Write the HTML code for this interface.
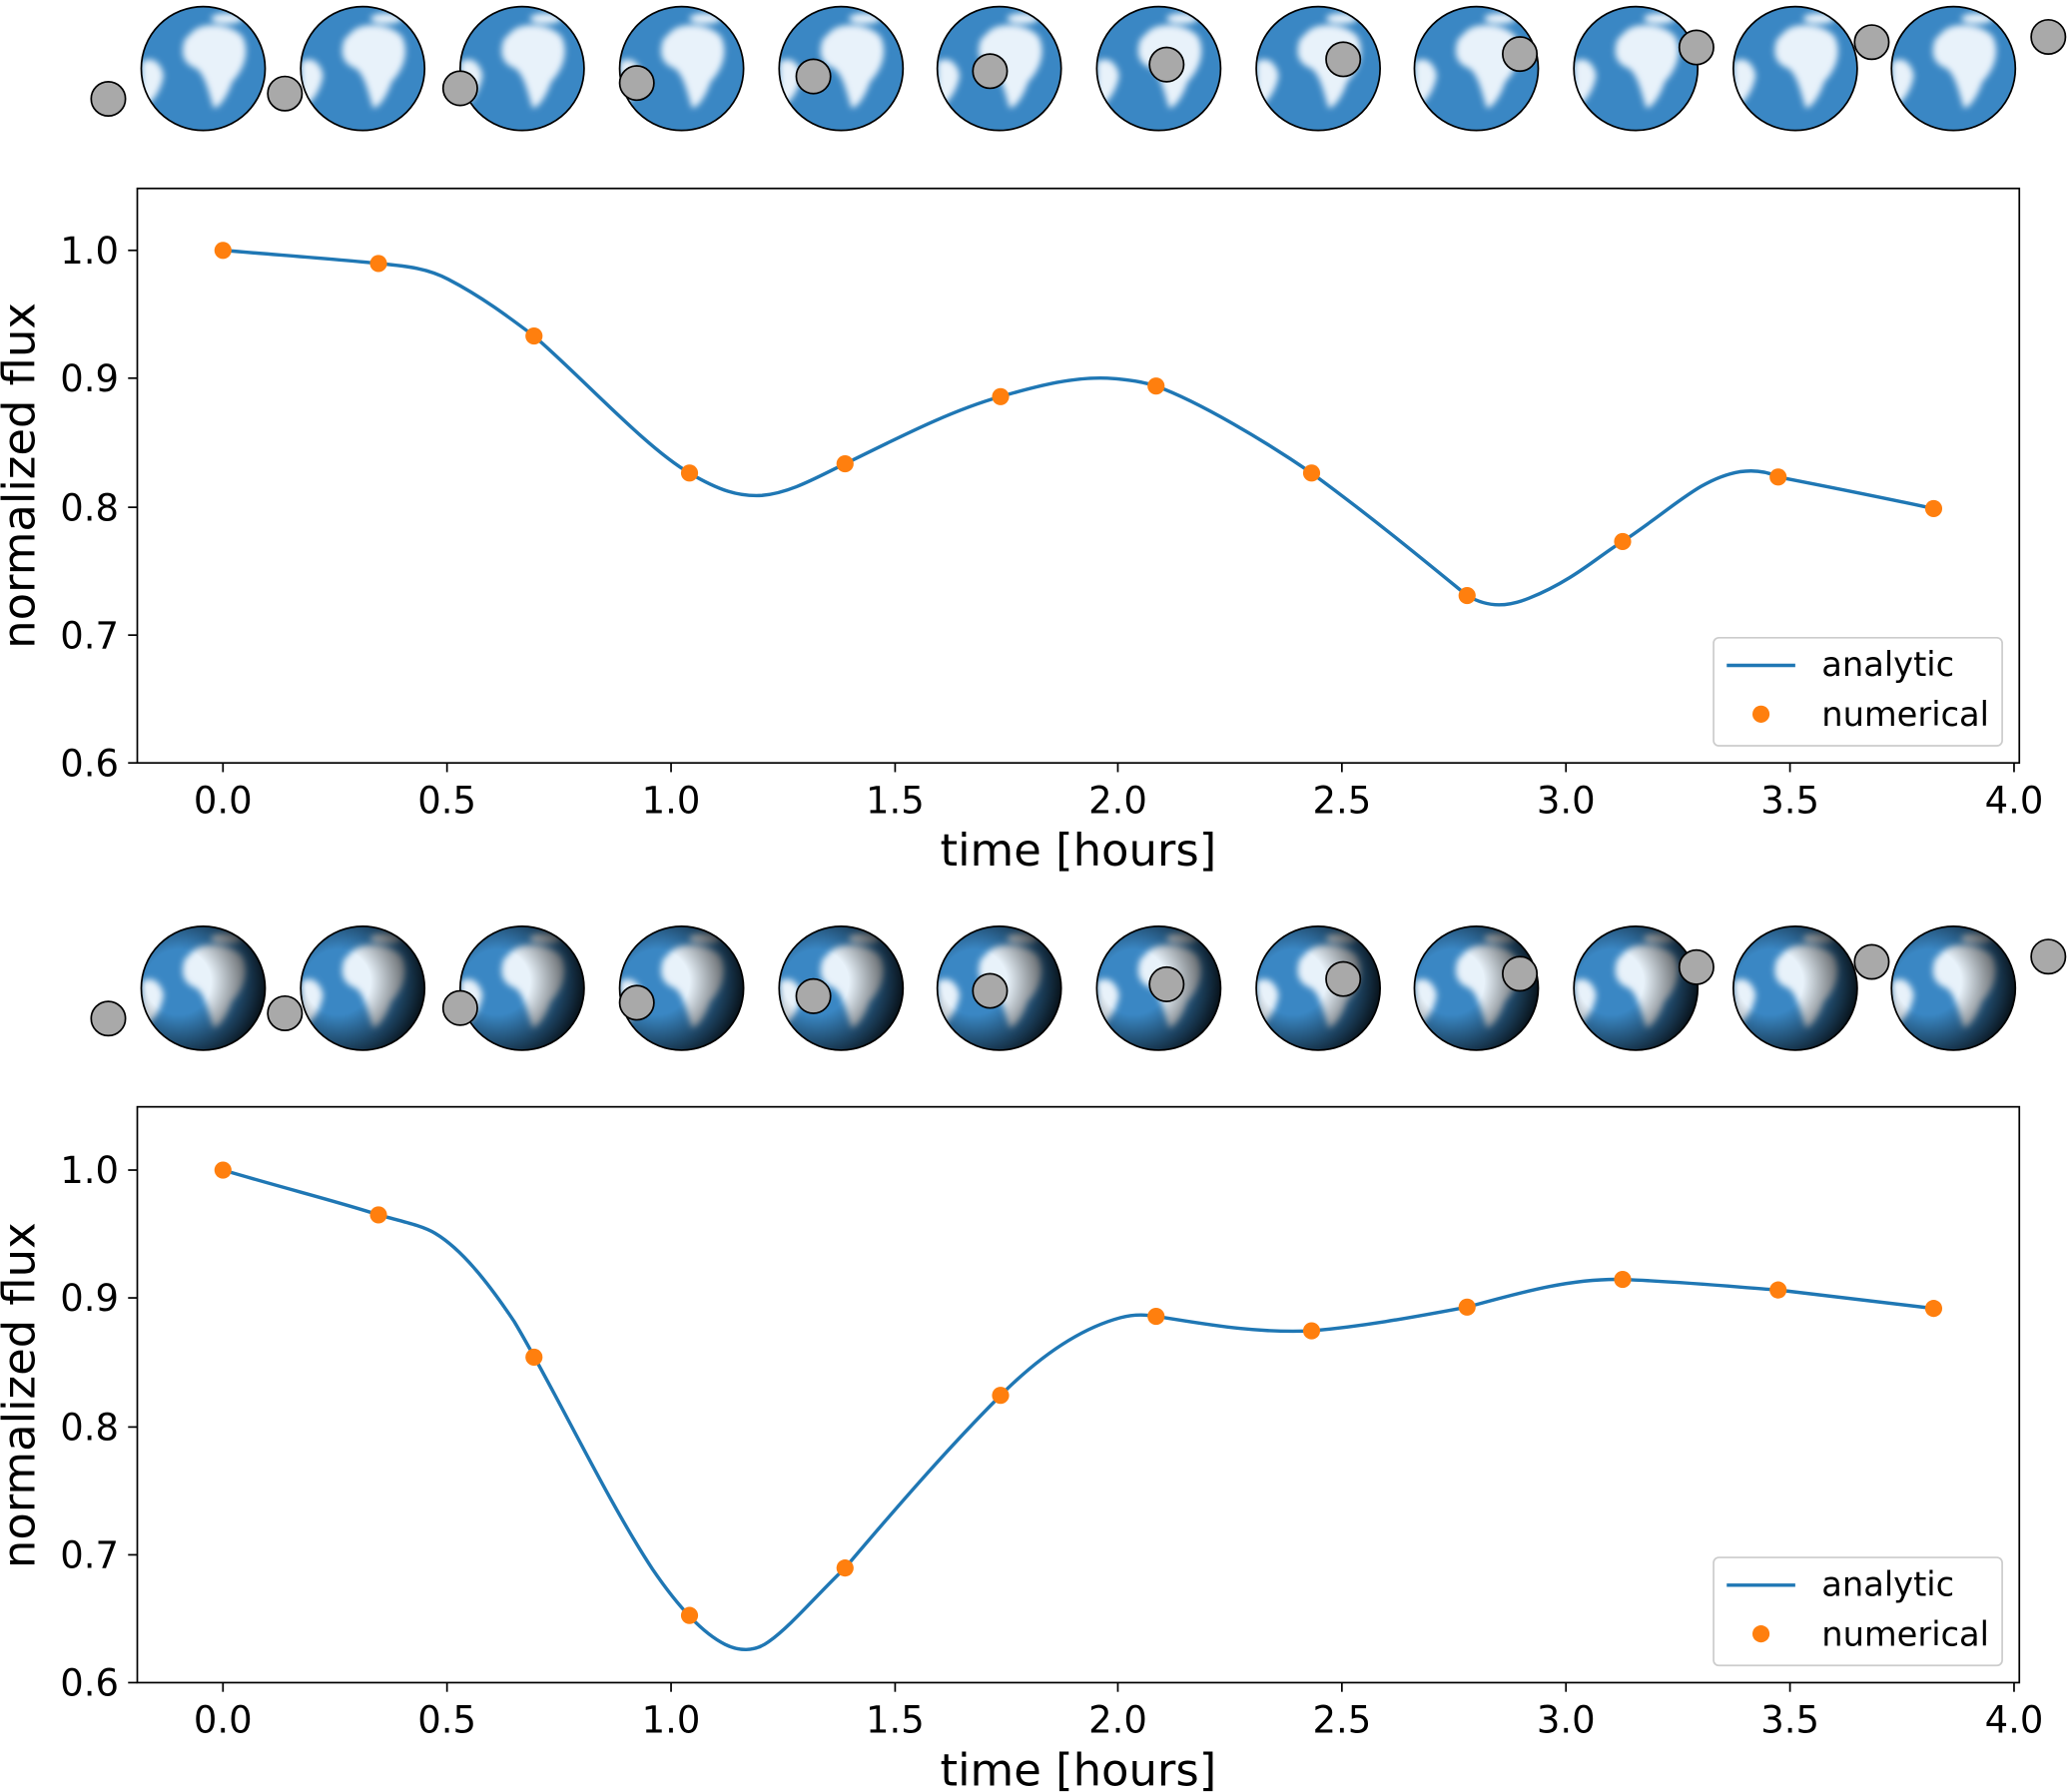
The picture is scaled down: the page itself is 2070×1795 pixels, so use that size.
<!DOCTYPE html>
<html><head><meta charset="utf-8"><style>html,body{margin:0;padding:0;background:#fff}svg{display:block}</style></head>
<body>
<svg width="2070" height="1795" viewBox="0 0 1568 1360" xmlns="http://www.w3.org/2000/svg" font-family="'DejaVu Sans','Liberation Sans',sans-serif">
<defs>
<filter id="bl" x="-20%" y="-20%" width="140%" height="140%"><feGaussianBlur stdDeviation="2.5"/></filter>
<clipPath id="ec"><circle cx="0" cy="0" r="47"/></clipPath>
<radialGradient id="sh" cx="0.3" cy="0.45" r="0.75">
<stop offset="0.35" stop-color="#000" stop-opacity="0"/>
<stop offset="0.8" stop-color="#000" stop-opacity="0.65"/>
<stop offset="1" stop-color="#000" stop-opacity="0.95"/>
</radialGradient>
<g id="land" fill="#e8f2fa" filter="url(#bl)">
<path d="M-8,-28 C0,-36 22,-34 30,-24 C36,-12 30,2 22,10 C18,22 12,30 8,30 C4,18 2,6 -5,0 C-14,-3 -18,-10 -14,-22 Z"/>
<path d="M-47,-5 C-38,-10 -32,-4 -30,5 C-32,18 -40,28 -47,30 Z"/>
<ellipse cx="18" cy="-38" rx="12" ry="4"/>
</g>
<g id="earth">
<g clip-path="url(#ec)">
<circle r="47" fill="#3a87c4"/>
<use href="#land"/>
</g>
<circle r="47" fill="none" stroke="#000" stroke-width="1.3"/>
</g>
<g id="earth2">
<g clip-path="url(#ec)">
<circle r="47" fill="#3a87c4"/>
<use href="#land"/>
<circle r="47" fill="url(#sh)"/>
</g>
<circle r="47" fill="none" stroke="#000" stroke-width="1.3"/>
</g>
<g id="moon"><circle r="13" fill="#a9a9a9" stroke="#000" stroke-width="1.3"/></g>
</defs>

<g>
<use href="#earth" x="154" y="52"/><use href="#earth" x="275" y="52"/><use href="#earth" x="396" y="52"/><use href="#earth" x="517" y="52"/><use href="#earth" x="638" y="52"/><use href="#earth" x="758" y="52"/><use href="#earth" x="879" y="52"/><use href="#earth" x="1000" y="52"/><use href="#earth" x="1120" y="52"/><use href="#earth" x="1241" y="52"/><use href="#earth" x="1362" y="52"/><use href="#earth" x="1482" y="52"/>
<use href="#moon" x="82" y="75"/><use href="#moon" x="216" y="71"/><use href="#moon" x="349" y="67"/><use href="#moon" x="483" y="63"/><use href="#moon" x="617" y="58"/><use href="#moon" x="751" y="54"/><use href="#moon" x="885" y="49"/><use href="#moon" x="1019" y="45"/><use href="#moon" x="1153" y="41"/><use href="#moon" x="1287" y="36"/><use href="#moon" x="1420" y="32"/><use href="#moon" x="1554" y="28"/>
</g>
<g transform="translate(0,698)">
<use href="#earth2" x="154" y="52"/><use href="#earth2" x="275" y="52"/><use href="#earth2" x="396" y="52"/><use href="#earth2" x="517" y="52"/><use href="#earth2" x="638" y="52"/><use href="#earth2" x="758" y="52"/><use href="#earth2" x="879" y="52"/><use href="#earth2" x="1000" y="52"/><use href="#earth2" x="1120" y="52"/><use href="#earth2" x="1241" y="52"/><use href="#earth2" x="1362" y="52"/><use href="#earth2" x="1482" y="52"/>
<use href="#moon" x="82" y="75"/><use href="#moon" x="216" y="71"/><use href="#moon" x="349" y="67"/><use href="#moon" x="483" y="63"/><use href="#moon" x="617" y="58"/><use href="#moon" x="751" y="54"/><use href="#moon" x="885" y="49"/><use href="#moon" x="1019" y="45"/><use href="#moon" x="1153" y="41"/><use href="#moon" x="1287" y="36"/><use href="#moon" x="1420" y="32"/><use href="#moon" x="1554" y="28"/>
</g>

<g>
<rect x="104" y="143" width="1428" height="436" fill="none" stroke="#000" stroke-width="1.3"/>
<g stroke="#000" stroke-width="1.3">
<line x1="169" y1="579" x2="169" y2="586"/><line x1="339" y1="579" x2="339" y2="586"/><line x1="509" y1="579" x2="509" y2="586"/><line x1="679" y1="579" x2="679" y2="586"/><line x1="848" y1="579" x2="848" y2="586"/><line x1="1018" y1="579" x2="1018" y2="586"/><line x1="1188" y1="579" x2="1188" y2="586"/><line x1="1358" y1="579" x2="1358" y2="586"/><line x1="1528" y1="579" x2="1528" y2="586"/>
<line x1="97" y1="190" x2="104" y2="190"/><line x1="97" y1="287" x2="104" y2="287"/><line x1="97" y1="385" x2="104" y2="385"/><line x1="97" y1="482" x2="104" y2="482"/><line x1="97" y1="579" x2="104" y2="579"/>
</g>
<g font-size="28" text-anchor="middle" fill="#000">
<text x="169" y="617">0.0</text><text x="339" y="617">0.5</text><text x="509" y="617">1.0</text><text x="679" y="617">1.5</text><text x="848" y="617">2.0</text><text x="1018" y="617">2.5</text><text x="1188" y="617">3.0</text><text x="1358" y="617">3.5</text><text x="1528" y="617">4.0</text>
</g>
<g font-size="28" text-anchor="end" fill="#000">
<text x="90" y="200">1.0</text><text x="90" y="297">0.9</text><text x="90" y="395">0.8</text><text x="90" y="492">0.7</text><text x="90" y="589">0.6</text>
</g>
<text x="818" y="657" font-size="34" text-anchor="middle">time [hours]</text>
<text transform="translate(26,361) rotate(-90)" font-size="34" text-anchor="middle">normalized flux</text>
<path d="M169,190 C230,195 270,198 287,200 C310,202 325,204 340,212 C365,225 385,240 405,255 C440,285 490,340 523,359 C545,372 560,377 578,376 C600,374 620,362 641,352 C680,333 720,312 759,301 C790,292 815,286 840,287 C858,288 868,290 877,293 C910,305 960,335 995,359 C1040,392 1080,425 1113,452 C1130,462 1145,460 1160,454 C1195,440 1215,420 1231,411 C1270,385 1290,363 1320,358 C1335,356 1345,360 1349,362 C1390,370 1430,378 1467,386" fill="none" stroke="#1f77b4" stroke-width="2.6"/>
<g fill="#ff7f0e">
<circle cx="169" cy="190" r="6.5"/><circle cx="287" cy="200" r="6.5"/><circle cx="405" cy="255" r="6.5"/><circle cx="523" cy="359" r="6.5"/><circle cx="641" cy="352" r="6.5"/><circle cx="759" cy="301" r="6.5"/><circle cx="877" cy="293" r="6.5"/><circle cx="995" cy="359" r="6.5"/><circle cx="1113" cy="452" r="6.5"/><circle cx="1231" cy="411" r="6.5"/><circle cx="1349" cy="362" r="6.5"/><circle cx="1467" cy="386" r="6.5"/>
</g>
<rect x="1300" y="484" width="219" height="82" rx="4" fill="#fff" stroke="#ccc" stroke-width="1.3"/>
<line x1="1310" y1="505" x2="1362" y2="505" stroke="#1f77b4" stroke-width="2.6"/>
<circle cx="1336" cy="542" r="6.5" fill="#ff7f0e"/>
<text x="1382" y="513" font-size="25.5">analytic</text>
<text x="1382" y="551" font-size="25.5">numerical</text>
</g>

<g transform="translate(0,698)">
<rect x="104" y="142" width="1428" height="437" fill="none" stroke="#000" stroke-width="1.3"/>
<g stroke="#000" stroke-width="1.3">
<line x1="169" y1="579" x2="169" y2="586"/><line x1="339" y1="579" x2="339" y2="586"/><line x1="509" y1="579" x2="509" y2="586"/><line x1="679" y1="579" x2="679" y2="586"/><line x1="848" y1="579" x2="848" y2="586"/><line x1="1018" y1="579" x2="1018" y2="586"/><line x1="1188" y1="579" x2="1188" y2="586"/><line x1="1358" y1="579" x2="1358" y2="586"/><line x1="1528" y1="579" x2="1528" y2="586"/>
<line x1="97" y1="190" x2="104" y2="190"/><line x1="97" y1="287" x2="104" y2="287"/><line x1="97" y1="385" x2="104" y2="385"/><line x1="97" y1="482" x2="104" y2="482"/><line x1="97" y1="579" x2="104" y2="579"/>
</g>
<g font-size="28" text-anchor="middle" fill="#000">
<text x="169" y="617">0.0</text><text x="339" y="617">0.5</text><text x="509" y="617">1.0</text><text x="679" y="617">1.5</text><text x="848" y="617">2.0</text><text x="1018" y="617">2.5</text><text x="1188" y="617">3.0</text><text x="1358" y="617">3.5</text><text x="1528" y="617">4.0</text>
</g>
<g font-size="28" text-anchor="end" fill="#000">
<text x="90" y="200">1.0</text><text x="90" y="297">0.9</text><text x="90" y="395">0.8</text><text x="90" y="492">0.7</text><text x="90" y="589">0.6</text>
</g>
<text x="818" y="657" font-size="34" text-anchor="middle">time [hours]</text>
<text transform="translate(26,361) rotate(-90)" font-size="34" text-anchor="middle">normalized flux</text>
<path d="M169,190 C220,205 260,215 287,224 C305,229 320,232 330,238 C350,250 370,275 390,305 C420,355 460,440 495,493 C510,515 530,540 550,550 C560,555 572,556 583,548 C600,536 620,512 641,492 C680,446 720,400 759,361 C790,330 820,310 850,302 C862,299 870,300 877,301 C910,306 950,314 995,312 C1040,308 1080,300 1113,294 C1150,284 1190,272 1231,273 C1280,275 1320,279 1349,281 C1400,287 1440,292 1467,295" fill="none" stroke="#1f77b4" stroke-width="2.6"/>
<g fill="#ff7f0e">
<circle cx="169" cy="190" r="6.5"/><circle cx="287" cy="224" r="6.5"/><circle cx="405" cy="332" r="6.5"/><circle cx="523" cy="528" r="6.5"/><circle cx="641" cy="492" r="6.5"/><circle cx="759" cy="361" r="6.5"/><circle cx="877" cy="301" r="6.5"/><circle cx="995" cy="312" r="6.5"/><circle cx="1113" cy="294" r="6.5"/><circle cx="1231" cy="273" r="6.5"/><circle cx="1349" cy="281" r="6.5"/><circle cx="1467" cy="295" r="6.5"/>
</g>
<rect x="1300" y="484" width="219" height="82" rx="4" fill="#fff" stroke="#ccc" stroke-width="1.3"/>
<line x1="1310" y1="505" x2="1362" y2="505" stroke="#1f77b4" stroke-width="2.6"/>
<circle cx="1336" cy="542" r="6.5" fill="#ff7f0e"/>
<text x="1382" y="513" font-size="25.5">analytic</text>
<text x="1382" y="551" font-size="25.5">numerical</text>
</g>
</svg>
</body></html>
